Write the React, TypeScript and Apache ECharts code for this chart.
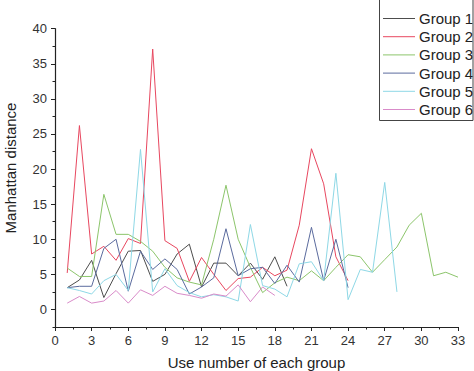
import React, { useEffect, useRef } from "react";
import * as echarts from "echarts";

const groupNames = ["Group 1", "Group 2", "Group 3", "Group 4", "Group 5", "Group 6"];
const groupColors = ["#4d4d4d", "#e8475f", "#8cc56b", "#5b6b9e", "#8ed8e6", "#d98bc9"];

const group1 = [3.1, 4.2, 7.0, 1.7, 5.1, 8.3, 8.4, 4.0, 5.0, 7.9, 9.3, 3.2, 6.6, 6.6, 4.8, 6.6, 4.3, 7.5, 3.3];
const group2 = [5.2, 26.2, 7.9, 9.0, 7.0, 10.1, 9.4, 37.1, 9.8, 8.7, 4.0, 7.4, 5.0, 2.7, 4.4, 4.6, 6.0, 4.8, 5.6, 12.0, 22.9, 17.9, 7.5, 4.1];
const group3 = [5.9, 4.7, 4.7, 16.4, 10.7, 10.7, 9.7, 8.3, 6.0, 4.5, 3.9, 3.5, 10.0, 17.7, 10.0, 6.0, 2.4, 3.8, 4.6, 4.1, 5.5, 4.1, 6.0, 7.8, 7.5, 5.3, 7.1, 8.9, 12.0, 13.7, 4.8, 5.3, 4.6];
const group4 = [3.1, 3.3, 3.3, 8.7, 10.0, 2.6, 8.3, 5.7, 7.2, 5.7, 2.2, 3.2, 4.5, 11.5, 4.8, 5.8, 6.0, 3.7, 6.3, 3.9, 11.7, 4.1, 10.0, 3.1];
const group5 = [3.1, 2.7, 2.2, 4.1, 5.0, 2.7, 22.8, 2.5, 5.8, 3.4, 2.4, 1.8, 2.1, 1.8, 1.2, 12.1, 3.4, 2.9, 1.8, 6.5, 6.8, 4.1, 19.4, 1.4, 5.7, 5.3, 18.1, 2.5];
const group6 = [0.9, 1.85, 0.9, 1.2, 2.7, 0.9, 2.8, 2.0, 3.3, 2.3, 2.0, 1.6, 2.2, 1.9, 3.5, 1.1, 3.2, 2.0];

const groups = [group1, group2, group3, group4, group5, group6];

const yMajorTicks = [0, 5, 10, 15, 20, 25, 30, 35, 40];
const yMinorTicks = [-2.5, 2.5, 7.5, 12.5, 17.5, 22.5, 27.5, 32.5, 37.5];

const FONT = "Liberation Sans";

export default function App() {
  const ref = useRef<HTMLDivElement>(null);
  useEffect(() => {
    if (!ref.current) return;
    const chart = echarts.init(ref.current, undefined, { renderer: "svg" });
    const axisColor = "#222";
    chart.setOption({
      animation: false,
      backgroundColor: "#fff",
      grid: { left: 55, right: 16, top: 28.7, bottom: 44, containLabel: false, outerBoundsMode: "none" },
      legend: {
        orient: "vertical",
        left: 383,
        top: 11,
        icon: "rect",
        itemWidth: 32,
        itemHeight: 1,
        itemGap: 3.2,
        padding: 0,
        data: groupNames,
        textStyle: { fontFamily: FONT, fontSize: 15, lineHeight: 14, color: "#222", padding: [0, 0, 0, -1] },
      },
      graphic: [
        {
          type: "rect",
          shape: { x: 379.5, y: -5, width: 93.5, height: 125.5 },
          style: { fill: "none", stroke: "#444", lineWidth: 1 },
          z: 10,
        },
        {
          type: "text",
          x: 10,
          y: 168,
          rotation: Math.PI / 2,
          style: {
            text: "Manhattan distance",
            fontFamily: FONT,
            fontSize: 15,
            fill: "#222",
            align: "center",
            verticalAlign: "middle",
          },
        },
      ],
      xAxis: {
        type: "value",
        min: 0,
        max: 33,
        interval: 3,
        name: "Use number of each group",
        nameLocation: "middle",
        nameGap: 28,
        nameTextStyle: { fontFamily: FONT, fontSize: 15, color: "#222" },
        axisLine: { show: true, onZero: false, lineStyle: { color: axisColor, width: 1.2 } },
        axisTick: { show: true, length: 4, lineStyle: { color: axisColor } },
        minorTick: { show: true, splitNumber: 2, length: 2.5, lineStyle: { color: axisColor } },
        axisLabel: { fontFamily: FONT, fontSize: 13, color: "#333", margin: 7 },
        splitLine: { show: false },
      },
      yAxis: [
        {
          type: "value",
          min: -2.5,
          max: 40,
          position: "left",
          axisLine: { show: true, onZero: false, lineStyle: { color: axisColor, width: 1.2 } },
          axisTick: { show: true, length: 4, customValues: yMajorTicks, lineStyle: { color: axisColor } },
          axisLabel: { fontFamily: FONT, fontSize: 13, color: "#333", margin: 8, customValues: yMajorTicks },
          splitLine: { show: false },
        },
        {
          type: "value",
          min: -2.5,
          max: 40,
          position: "left",
          offset: 0,
          axisLine: { show: false, onZero: false },
          axisTick: { show: true, length: 2.5, customValues: yMinorTicks, lineStyle: { color: axisColor } },
          axisLabel: { show: false },
          splitLine: { show: false },
        },
      ],
      series: groups.map((g, gi) => ({
        name: groupNames[gi],
        type: "line",
        yAxisIndex: 0,
        symbol: "none",
        data: g.map((v, i) => [i + 1, v]),
        lineStyle: { color: groupColors[gi], width: 1 },
        itemStyle: { color: groupColors[gi] },
      })),
    });
    return () => chart.dispose();
  }, []);
  return <div ref={ref} style={{ width: 474, height: 371, position: "absolute", left: 0, top: 0 }} />;
}
